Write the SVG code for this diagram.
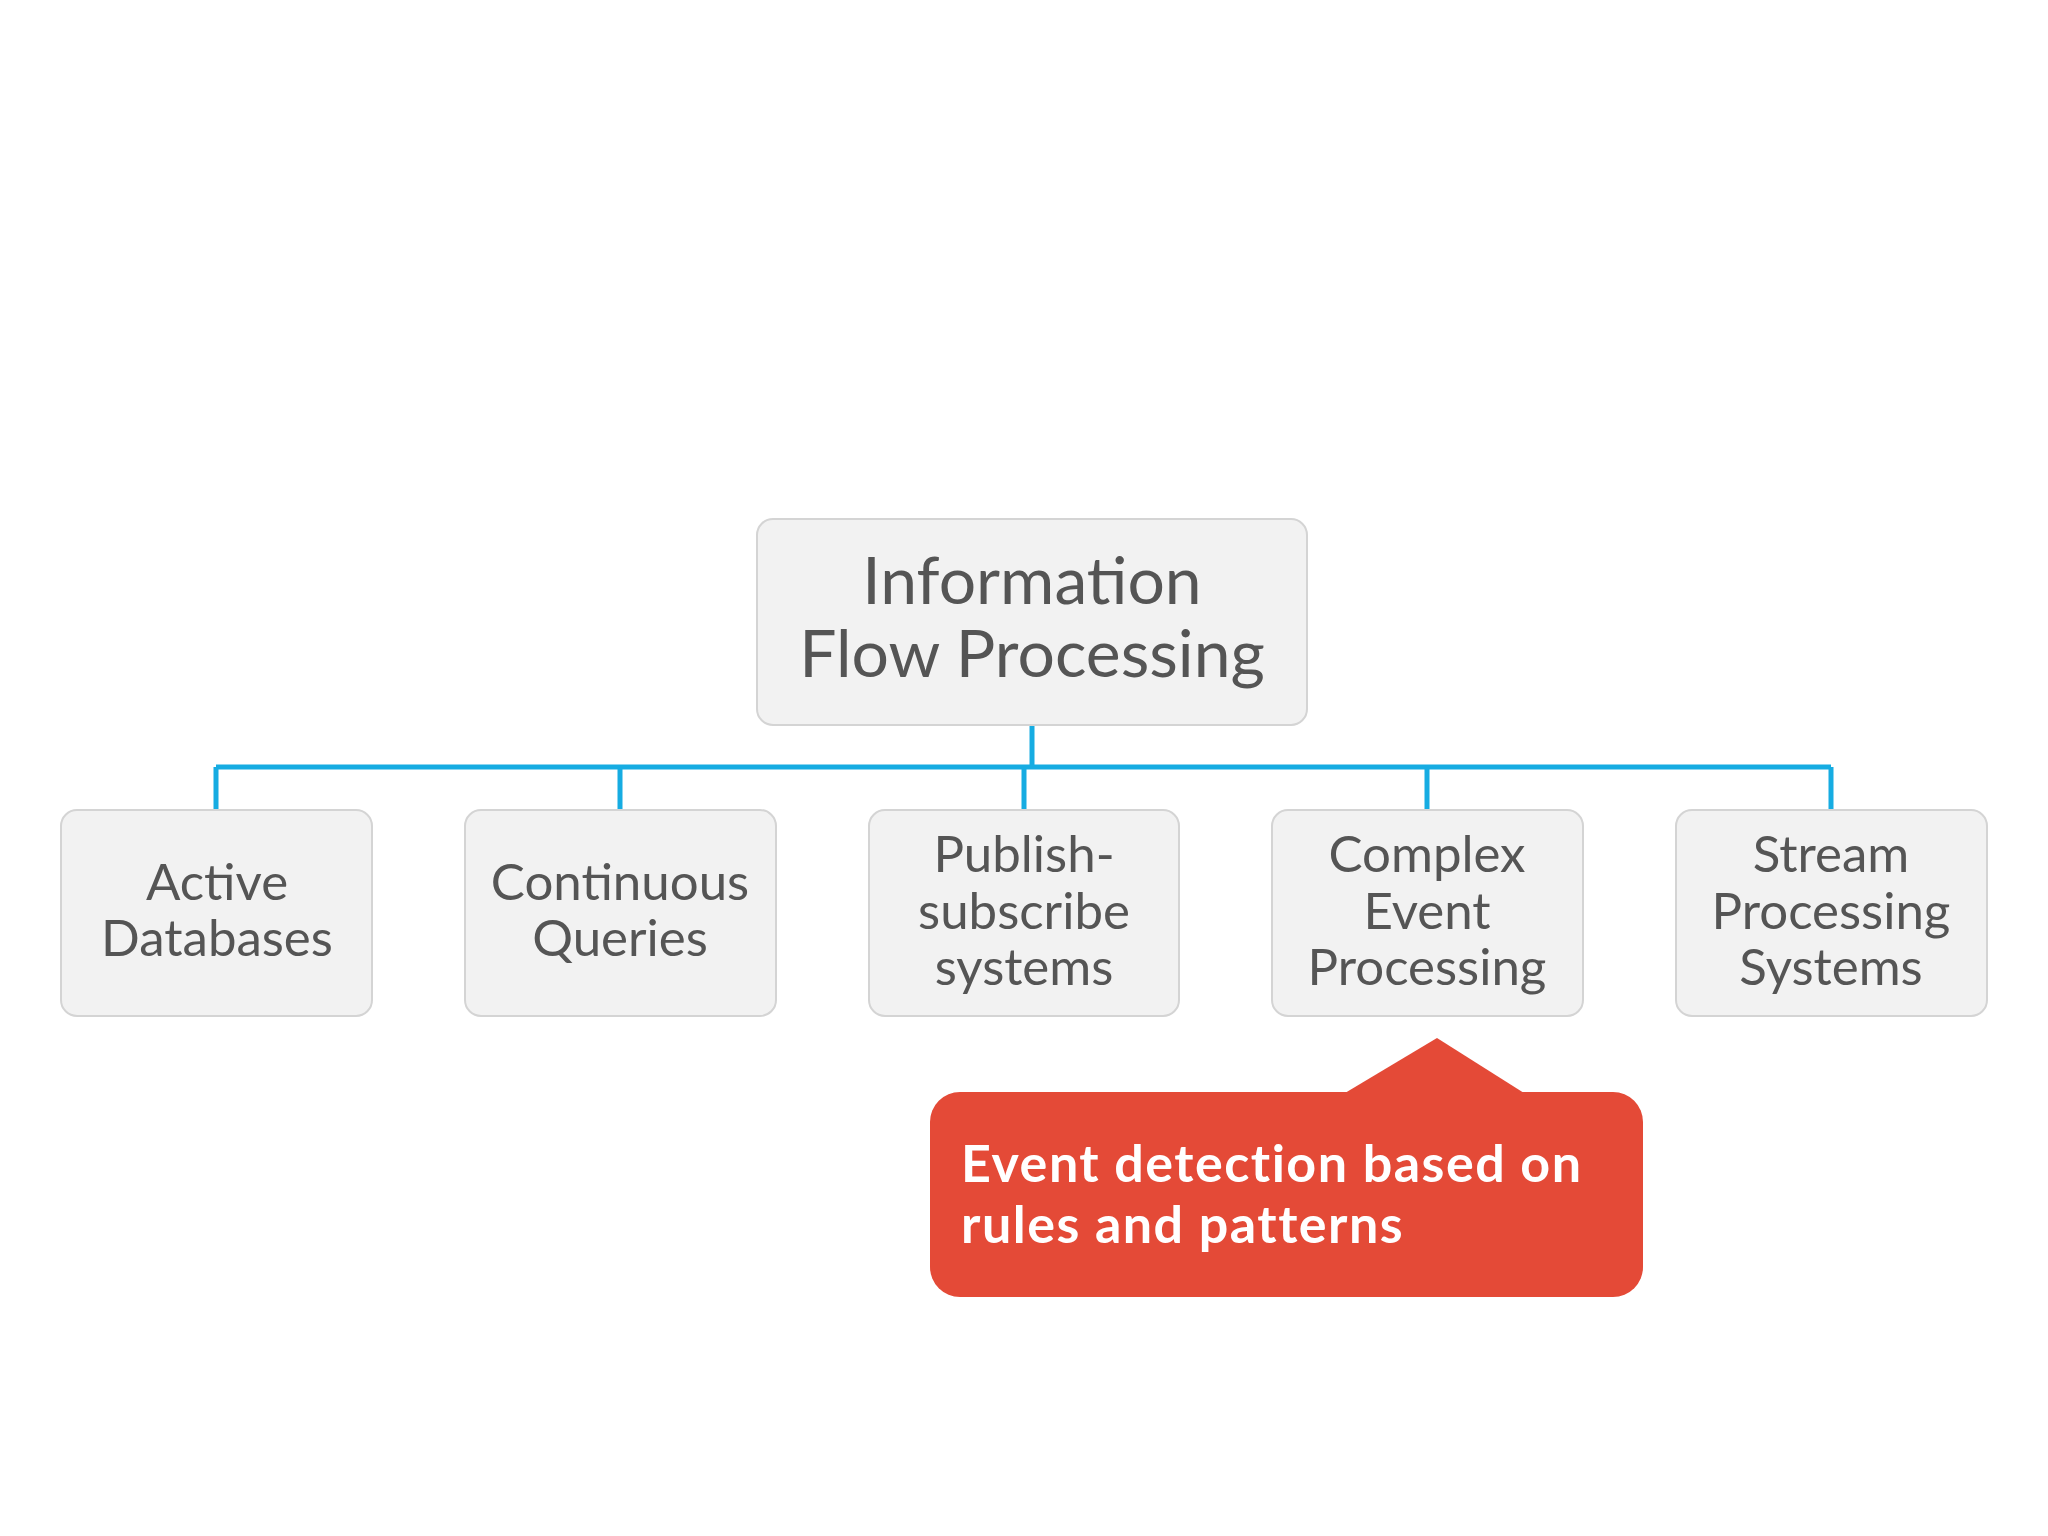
<svg xmlns="http://www.w3.org/2000/svg" width="2048" height="1536" viewBox="0 0 2048 1536">
<style>
.box{fill:#f2f2f2;stroke:#d4d4d4;stroke-width:2}
.t{font-family:Lato,"Open Sans",sans-serif;fill:#555;text-anchor:middle}
.top{font-size:66px}
.c{font-size:51px}
.w{font-family:Lato,"Open Sans",sans-serif;font-weight:bold;font-size:52px;letter-spacing:1.5px;fill:#fff}
.ln{stroke:#16ace2;stroke-width:5;fill:none}
</style>
<rect width="2048" height="1536" fill="#fff"/>
<g id="connectors">
<path class="ln" d="M1032 725V767M216 767H1831M216 767V810M620 767V810M1024 767V810M1427 767V810M1831 767V810"/>
</g>
<g id="root"><rect class="box" x="757" y="519" width="550" height="206" rx="16"/>
<text class="t top" x="1032" y="604">Information</text><text class="t top" x="1032" y="677">Flow Processing</text></g>
<g id="n1"><rect class="box" x="61" y="810" width="311" height="206" rx="16"/>
<text class="t c" x="217" y="900">Active</text><text class="t c" x="217" y="956">Databases</text></g>
<g id="n2"><rect class="box" x="465" y="810" width="311" height="206" rx="16"/>
<text class="t c" x="620" y="900">Continuous</text><text class="t c" x="620" y="956">Queries</text></g>
<g id="n3"><rect class="box" x="869" y="810" width="310" height="206" rx="16"/>
<text class="t c" x="1024" y="872">Publish-</text><text class="t c" x="1024" y="929">subscribe</text><text class="t c" x="1024" y="985">systems</text></g>
<g id="n4"><rect class="box" x="1272" y="810" width="311" height="206" rx="16"/>
<text class="t c" x="1427" y="872">Complex</text><text class="t c" x="1427" y="929">Event</text><text class="t c" x="1427" y="985">Processing</text></g>
<g id="n5"><rect class="box" x="1676" y="810" width="311" height="206" rx="16"/>
<text class="t c" x="1831" y="872">Stream</text><text class="t c" x="1831" y="929">Processing</text><text class="t c" x="1831" y="985">Systems</text></g>
<g id="callout">
<rect x="930" y="1092" width="713" height="205" rx="30" fill="#e44a37"/>
<polygon points="1345,1093 1437,1038 1524,1093" fill="#e44a37"/>
<text class="w" x="961" y="1182">Event detection based on</text>
<text class="w" x="961" y="1243">rules and patterns</text>
</g>
</svg>
